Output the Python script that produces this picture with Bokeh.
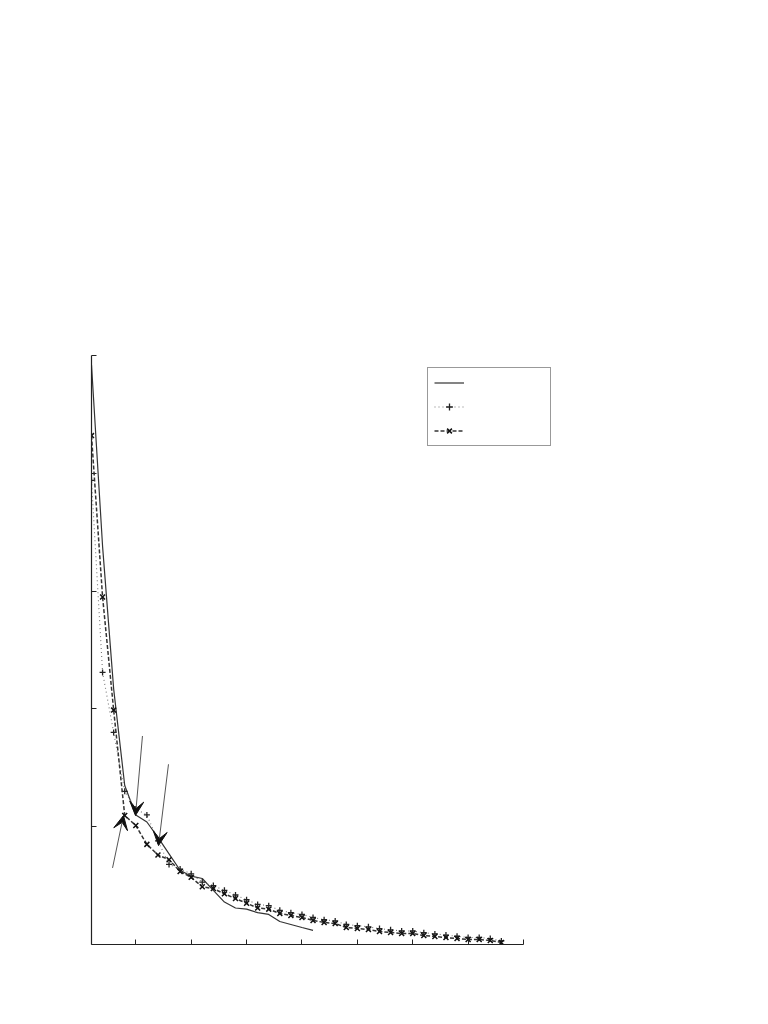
from bokeh.plotting import figure
from bokeh.models import (Range1d, FixedTicker, Legend, LegendItem, Arrow, VeeHead,
                          CustomJSTickFormatter)
from bokeh.embed import file_html
from bokeh.resources import INLINE

# ---- data ----
x_solid = list(range(1, 22))
y_solid = [4.92, 3.38, 2.17, 1.35, 1.10, 1.04, 0.91, 0.77, 0.63, 0.58, 0.56,
           0.46, 0.36, 0.31, 0.30, 0.27, 0.255, 0.195, 0.17, 0.144, 0.12]

x_dot = list(range(1, 39))
y_dot = [3.94, 2.31, 1.80, 1.30, 1.15, 1.10, 0.88, 0.68, 0.64, 0.60, 0.53, 0.50,
         0.46, 0.42, 0.38, 0.34, 0.33, 0.29, 0.27, 0.255, 0.23, 0.21, 0.20, 0.17,
         0.16, 0.15, 0.135, 0.125, 0.115, 0.115, 0.10, 0.09, 0.08, 0.07, 0.06,
         0.06, 0.05, 0.03]

x_dash = list(range(1, 39))
y_dash = [4.32, 2.95, 1.99, 1.095, 1.01, 0.85, 0.76, 0.72, 0.62, 0.57, 0.49, 0.475,
          0.43, 0.39, 0.35, 0.31, 0.30, 0.263, 0.246, 0.229, 0.204, 0.187, 0.178,
          0.144, 0.136, 0.127, 0.110, 0.102, 0.093, 0.093, 0.076, 0.068, 0.059,
          0.051, 0.042, 0.042, 0.034, 0.017]

x_ticks = [5, 10, 15, 20, 25, 30, 35, 40]
y_ticks = [0, 1, 2, 3, 4, 5]

arrow_x0 = [2.9, 5.6, 7.95]
arrow_y0 = [0.65, 1.77, 1.53]
arrow_x1 = [3.89, 4.97, 7.05]
arrow_y1 = [1.095, 1.095, 0.84]

# ---- figure geometry ----
X0, X1 = 1, 40
frame_w = 476
frame_h = 589
x_end = X0 + frame_w * (X1 - X0) / 432.0

p = figure(output_backend="svg", toolbar_location=None,
           frame_width=frame_w, frame_height=frame_h,
           min_border_left=91, min_border_top=355, min_border_bottom=30,
           min_border_right=20,
           x_range=Range1d(X0, x_end), y_range=Range1d(0, 5))
p.outline_line_color = None
p.xgrid.visible = False
p.ygrid.visible = False
p.background_fill_color = "white"
p.border_fill_color = "white"

blank = CustomJSTickFormatter(code="return '';")
for ax in (p.xaxis[0], p.yaxis[0]):
    ax.axis_line_color = "#222222"
    ax.axis_line_width = 1.2
    ax.major_tick_line_color = "#222222"
    ax.major_tick_in = 5
    ax.major_tick_out = 0
    ax.minor_tick_line_color = None
    ax.formatter = blank
    ax.major_label_standoff = 0

p.xaxis.ticker = FixedTicker(ticks=x_ticks)
p.yaxis.ticker = FixedTicker(ticks=y_ticks)
p.xaxis.bounds = (X0, X1)
p.yaxis.bounds = (0, 5)

# ---- series ----
r1 = p.line(x_solid, y_solid, line_color="#333333", line_width=1.2)

r2 = p.line(x_dot, y_dot, line_color="#777777", line_width=1.1, line_dash="1 3")
r2m = p.scatter(x_dot, y_dot, marker="cross", size=6, line_color="#222222", line_width=1.3)

r3 = p.line(x_dash, y_dash, line_color="#333333", line_width=1.5, line_dash="4 2")
r3m = p.scatter(x_dash, y_dash, marker="x", size=7, line_color="#111111", line_width=1.5)

# ---- arrows ----
for xs, ys, xe, ye in zip(arrow_x0, arrow_y0, arrow_x1, arrow_y1):
    p.add_layout(Arrow(end=VeeHead(size=14, fill_color="#111111", line_color="#111111"),
                       x_start=xs, y_start=ys, x_end=xe, y_end=ye,
                       line_color="#555555", line_width=1))

# ---- legend (no labels, like the reference) ----
legend = Legend(items=[
    LegendItem(label="", renderers=[r1]),
    LegendItem(label="", renderers=[r2, r2m]),
    LegendItem(label="", renderers=[r3, r3m]),
], location=(336, 498))
legend.border_line_color = "#333333"
legend.border_line_width = 1.5
legend.background_fill_color = "white"
legend.background_fill_alpha = 1.0
legend.padding = 6
legend.margin = 0
legend.spacing = 7
legend.glyph_width = 30
legend.glyph_height = 17
legend.label_standoff = 5
legend.label_width = 75
legend.label_height = 17
legend.label_text_font_size = "8px"
p.add_layout(legend)

open("out.html", "w").write(file_html(p, INLINE))
